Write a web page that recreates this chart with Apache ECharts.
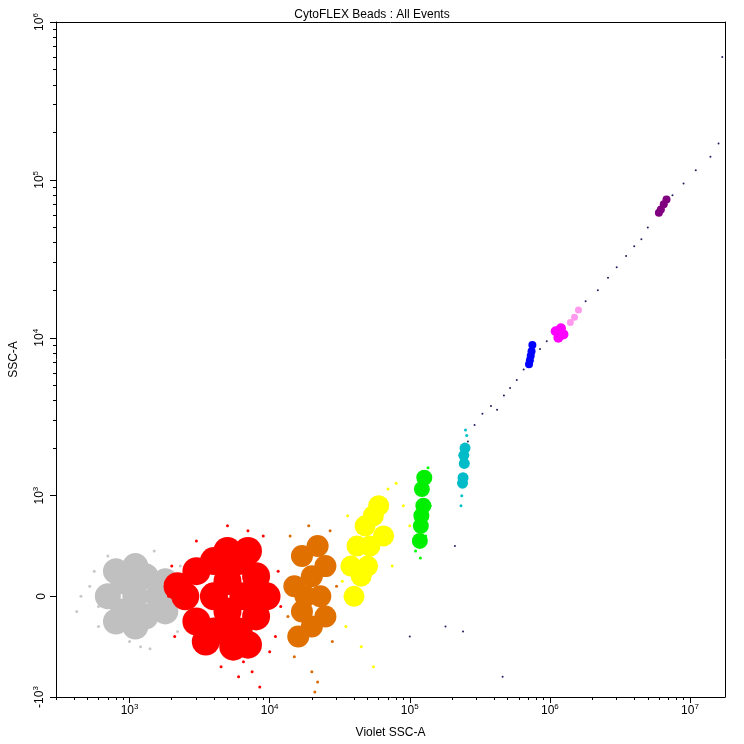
<!DOCTYPE html>
<html lang="en">
<head>
<meta charset="UTF-8">
<title>CytoFLEX Beads</title>
<script src="https://cdn.jsdelivr.net/npm/echarts@6/dist/echarts.min.js"></script>
<style>
  html, body { margin: 0; padding: 0; background: #fff; }
  #chart { width: 744px; height: 744px; }
</style>
</head>
<body>
<div id="chart"></div>
<script>
// bead populations, [Violet SSC-A, SSC-A]
var grayCore = [[700,0],[900,150],[900,-150],[1100,0],[1300,200],[1300,-200],[1600,0],[1100,300],[1100,-300],[800,-250],[800,250],[1800,150],[1800,-150],[2000,0]];
var grayFringe = [[450,0],[520,100],[600,-300],[560,250],[2300,300],[2500,-200],[1500,450],[1000,-450],[700,400],[1200,-500],[2200,-350],[600,-100],[420,-150],[1400,-520]];
var redCore = [[2500,0],[3000,250],[3000,-250],[4000,0],[4000,350],[4000,-350],[5000,150],[5000,-150],[6000,350],[6000,-350],[6500,0],[8000,200],[8000,-200],[9500,0],[3500,-450],[5500,-500],[7000,-480],[2200,100],[5000,450],[7000,450]];
var redFringe = [[1900,0],[2000,300],[11500,250],[12000,-100],[10000,-550],[6000,-800],[7500,-750],[4500,-700],[5000,700],[7000,650],[3000,550],[9000,600],[8500,-900],[6500,-650],[11000,-400],[2100,-400]];
var orangeCore = [[15000,100],[17000,400],[17000,-150],[20000,200],[20000,-300],[22000,500],[23000,0],[25000,300],[25000,-200],[18000,0],[16000,-400]];
var orangeFringe = [[14000,600],[19000,700],[27000,650],[28000,-450],[15000,-600],[20000,-750],[22000,-850],[30000,100],[13500,-200],[21000,-950]];
var yellowCore = [[38000,300],[42000,500],[45000,200],[48000,700],[52000,500],[55000,800],[60000,900],[40000,0],[50000,300],[65000,600]];
var yellowFringe = [[35000,-300],[36000,800],[70000,1100],[80000,1200],[90000,900],[45000,-500],[55000,-700],[75000,300],[100000,700],[33000,150]];
var greenCore = [[120000,700],[125000,900],[122000,1100],[118000,550],[127000,1300],[121000,800]];
var greenFringe = [[110000,450],[135000,1500],[130000,600],[115000,1350],[140000,900],[119000,380]];
var cyanCore = [[240000,1300],[245000,1600],[248000,2000],[238000,1200],[243000,1800]];
var cyanFringe = [[235000,1000],[255000,2400],[250000,2600],[232000,900]];
var blueCore = [[720000,7200],[740000,8200],[750000,9000],[710000,6800],[730000,7700]];
var magentaCore = [[1100000,11000],[1200000,11500],[1250000,10500],[1150000,10000]];
var pinkCore = [[1400000,12500],[1500000,13500],[1600000,15000]];
var purpleCore = [[6200000,65000],[6500000,70000],[6800000,75000],[6000000,62000]];
var sparse = [[260000,2200],[290000,2800],[330000,3300],[380000,3700],[420000,3500],[470000,4300],[520000,4800],[580000,5400],[650000,6300],[850000,8500],[950000,9500],[1800000,17000],[2200000,20000],[2600000,24000],[3000000,28000],[3500000,33000],[4000000,38000],[4500000,42000],[5000000,50000],[7500000,80000],[9000000,95000],[11000000,115000],[14000000,140000],[16000000,170000],[210000,500],[180000,-300],[460000,-800],[240000,-350],[100000,-400],[17000000,600000]];

var xMajor = [3, 4, 5, 6, 7];
var yDecades = [-1000, 0, 1000, 10000, 100000, 1000000];

// logicle-like display scale for SSC-A
var K = 1.568;
function uy(v) {
  if (Math.abs(v) <= 1000) return v / 1000;
  var s = v < 0 ? -1 : 1;
  return s * (1 + (Math.log10(Math.abs(v)) - 3) * K);
}
function pts(arr) { return arr.map(function (d) { return [Math.log10(d[0]), uy(d[1])]; }); }

var xMinor = [];
for (var n = 2; n <= 7; n++) for (var m = 2; m <= 9; m++) {
  var l = n + Math.log10(m);
  if (l > 2.475 && l < 7.25) xMinor.push(l);
}
var yMinor = [];
for (var n2 = 3; n2 < 6; n2++) for (var m2 = 2; m2 <= 9; m2++) yMinor.push(uy(m2 * Math.pow(10, n2)));

var chart = echarts.init(document.getElementById('chart'));
var font = 'Liberation Sans, Arial, sans-serif';
var rich = { b: { fontSize: 12, fontFamily: font, color: '#000' }, s: { fontSize: 8, fontFamily: font, color: '#000', verticalAlign: 'top', padding: [0, 0, 8, 0] } };

function ser(data, color, size) {
  return { type: 'scatter', xAxisIndex: 0, yAxisIndex: 0, data: pts(data), symbolSize: size, itemStyle: { color: color, opacity: 1 }, silent: true, animation: false };
}
var yMin = -1, yMax = uy(1000000);
var xMin = 2.475, xMax = 7.25;

chart.setOption({
  animation: false,
  title: { text: 'CytoFLEX Beads : All Events', left: 'center', top: 4, textStyle: { fontSize: 12, fontWeight: 'normal', fontFamily: font, color: '#000' } },
  grid: { left: 52, right: 19, top: 22, bottom: 46 },
  xAxis: [{
    type: 'value', min: xMin, max: xMax, name: 'Violet SSC-A', nameLocation: 'middle', nameGap: 30,
    nameTextStyle: { fontSize: 12, fontFamily: font, color: '#000' },
    axisLine: { onZero: false, lineStyle: { color: '#000' } }, splitLine: { show: false },
    axisTick: { customValues: xMajor, length: 6, lineStyle: { color: '#000' } },
    axisLabel: { customValues: xMajor, margin: 6, rich: rich, formatter: function (v) { return '{b|10}{s|' + Math.round(v) + '}'; } }
  }, {
    type: 'value', min: xMin, max: xMax, position: 'bottom',
    axisLine: { show: false, onZero: false }, splitLine: { show: false }, axisLabel: { show: false },
    axisTick: { customValues: xMinor, length: 3, lineStyle: { color: '#000' } }
  }, {
    type: 'value', min: xMin, max: xMax, position: 'top',
    axisLine: { show: true, onZero: false, lineStyle: { color: '#000' } }, splitLine: { show: false }, axisLabel: { show: false }, axisTick: { show: false }
  }],
  yAxis: [{
    type: 'value', min: yMin, max: yMax, name: 'SSC-A', nameLocation: 'middle', nameGap: 36,
    nameTextStyle: { fontSize: 12, fontFamily: font, color: '#000' },
    axisLine: { onZero: false, lineStyle: { color: '#000' } }, splitLine: { show: false },
    axisTick: { customValues: yDecades.map(uy), length: 6, lineStyle: { color: '#000' } },
    axisLabel: {
      customValues: yDecades.map(uy), rotate: 90, margin: 8, rich: rich,
      formatter: function (v) {
        if (Math.abs(v) < 1e-6) return '{b|0}';
        if (v < 0) return '{b|-10}{s|3}';
        var e = Math.round(3 + (v - 1) / K);
        return '{b|10}{s|' + e + '}';
      }
    }
  }, {
    type: 'value', min: yMin, max: yMax, position: 'left',
    axisLine: { show: false, onZero: false }, splitLine: { show: false }, axisLabel: { show: false },
    axisTick: { customValues: yMinor, length: 3, lineStyle: { color: '#000' } }
  }, {
    type: 'value', min: yMin, max: yMax, position: 'right',
    axisLine: { show: true, onZero: false, lineStyle: { color: '#000' } }, splitLine: { show: false }, axisLabel: { show: false }, axisTick: { show: false }
  }],
  series: [
    ser(grayFringe, '#c8c8c8', 3), ser(grayCore, '#c0c0c0', 26),
    ser(redFringe, '#ff0000', 3), ser(redCore, '#ff0000', 28),
    ser(orangeFringe, '#d86a00', 3), ser(orangeCore, '#e07000', 22),
    ser(yellowFringe, '#ffff00', 3), ser(yellowCore, '#ffff00', 21),
    ser(greenFringe, '#00ff00', 3), ser(greenCore, '#00ee00', 16),
    ser(cyanFringe, '#00c0c8', 3), ser(cyanCore, '#00bcc8', 11),
    ser(blueCore, '#0000ff', 8), ser(magentaCore, '#ff00ff', 10),
    ser(pinkCore, '#ff99ee', 7), ser(purpleCore, '#800080', 8),
    ser(sparse, '#202060', 2)
  ]
});
</script>
</body>
</html>
